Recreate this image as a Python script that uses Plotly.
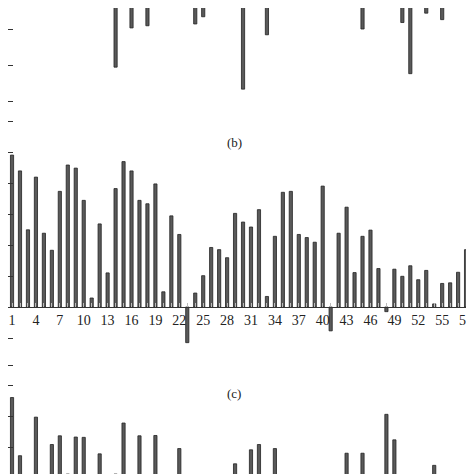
import plotly.graph_objects as go

idx = list(range(1, 60))
b_vals = [4.9, 4.39, 2.49, 4.19, 2.38, 1.83, 3.73, 4.58, 4.48, 3.44,
          0.29, 2.68, 1.10, 3.82, 4.69, 4.39, 3.44, 3.33, 3.97, 0.49,
          2.94, 2.34, -1.15, 0.45, 1.01, 1.92, 1.85, 1.59, 3.02, 2.74,
          2.58, 3.14, 0.34, 2.28, 3.70, 3.73, 2.34, 2.24, 2.09, 3.90,
          -0.77, 2.38, 3.22, 1.11, 2.28, 2.48, 1.24, -0.15, 1.22, 0.99,
          1.33, 0.88, 1.18, 0.10, 0.76, 0.78, 1.12, 1.85, 4.18]
a_idx = [14, 16, 18, 24, 25, 30, 33, 45, 50, 51, 53, 55]
a_vals = [-2.06, -0.97, -0.91, -0.86, -0.66, -2.67, -1.16, -1.0, -0.82, -2.24, -0.56, -0.74]
c_idx = [1, 2, 4, 6, 7, 8, 9, 10, 12, 14, 15, 17, 19, 22, 29, 31, 32, 34, 43, 45, 48, 49, 54, 59]
c_vals = [2.62, 0.75, 1.99, 1.11, 1.39, 0.16, 1.35, 1.34, 0.81, 0.16, 1.8, 1.39, 1.4, 0.98,
          0.49, 0.94, 1.11, 0.98, 0.83, 0.83, 2.08, 1.26, 0.44, 0.75]
x_ticks = list(range(1, 60, 3))

bar_style = dict(marker=dict(color="#5a5a5a", line=dict(color="#222", width=0.8)), width=0.4, showlegend=False)
fig = go.Figure()
fig.add_bar(x=idx, y=b_vals, yaxis="y", **bar_style)
fig.add_bar(x=a_idx, y=a_vals, yaxis="y2", **bar_style)
fig.add_bar(x=c_idx, y=c_vals, yaxis="y3", **bar_style)

yax = dict(domain=[0, 1], showgrid=False, zeroline=False, showticklabels=False, automargin=False,
           ticks="inside", ticklen=5, tickcolor="#333", showline=False)
fig.update_layout(
    width=474, height=474, margin=dict(l=0, r=0, t=0, b=0, autoexpand=False),
    paper_bgcolor="white", plot_bgcolor="white", barmode="overlay",
    font=dict(family="Liberation Serif, Times New Roman, serif", size=14, color="#222"),
    xaxis=dict(range=[0.494, 60.0], anchor="free", position=(474 - 299) / 474, automargin=False,
               showline=True, linecolor="#333", linewidth=1, showgrid=False, zeroline=False,
               tickvals=x_ticks, ticks="", tickfont=dict(size=14),
               minor=dict(dtick=1, ticks="inside", ticklen=4, tickcolor="#bbb")),
    yaxis=dict(range=[-5.645, 9.645], tickvals=[-1, 0, 1, 2, 3, 4, 5], **yax),
    yaxis2=dict(range=[-13.58, -0.4167], overlaying="y", tickvals=[-1, -2, -3, -3.56], **yax),
    yaxis3=dict(range=[-0.095, 15.14], overlaying="y", tickvals=[1, 2, 3, 3.65], **yax),
    annotations=[
        dict(text="(b)", x=0.477, y=1 - 125 / 474, xref="paper", yref="paper", showarrow=False, font=dict(size=13)),
        dict(text="(c)", x=0.477, y=1 - 395 / 474, xref="paper", yref="paper", showarrow=False, font=dict(size=13)),
    ],
)
fig.write_html("out.html")
